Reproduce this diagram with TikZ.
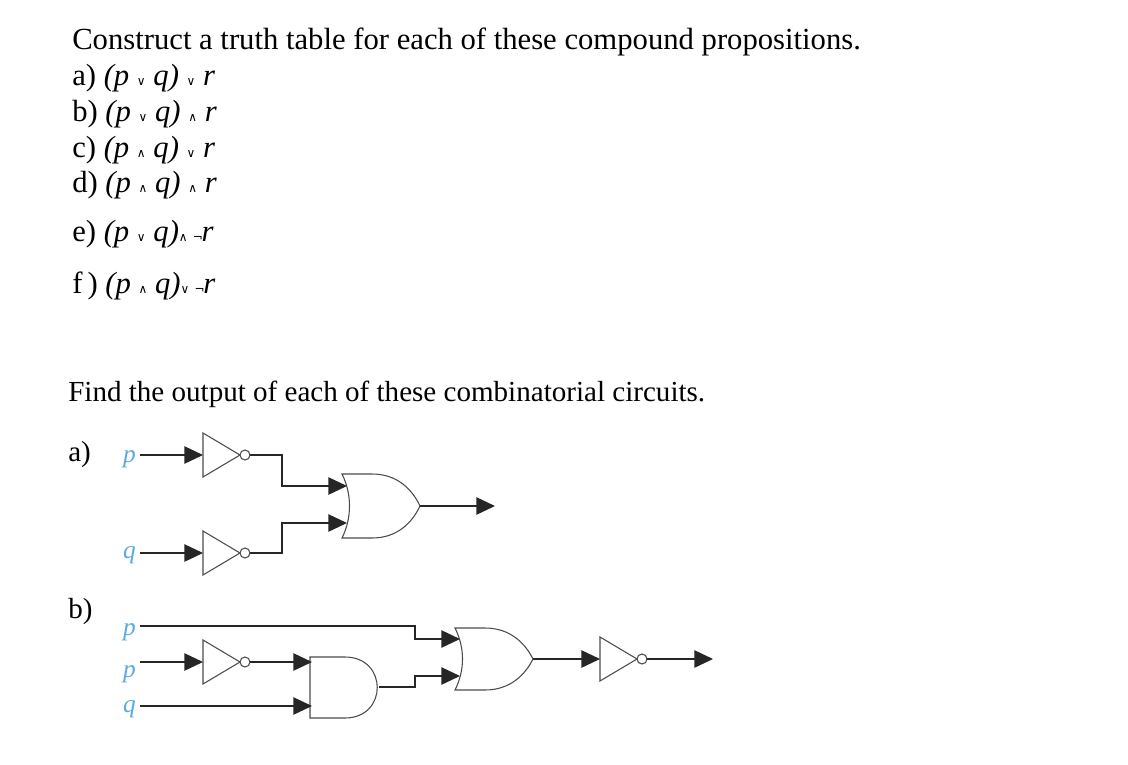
\documentclass[tikz,border=0pt]{standalone}
\usepackage{fontspec}
\setmainfont{Liberation Serif}
\newfontfamily\symf{DejaVu Sans}
\usetikzlibrary{arrows.meta}
\definecolor{lblue}{RGB}{90,170,230}
\tikzset{
 wire/.style={line width=1.2pt,black!85},
 arr/.style={wire,-{Triangle[length=14pt,width=13pt]}},
 gate/.style={draw=black!70,line width=0.8pt,fill=white},
 txt/.style={anchor=west,inner sep=0pt,font=\fontsize{23}{27}\selectfont},
 txt2/.style={anchor=west,inner sep=0pt,font=\fontsize{21.8}{26}\selectfont},
 lbl/.style={anchor=east,inner sep=0pt,text=lblue,font=\fontsize{19}{22}\selectfont\itshape},
}
\newcommand{\ors}{{\symf\small ∨}}
\newcommand{\ands}{{\symf\small ∧}}
\newcommand{\nots}{{\symf\small ¬}}
\newcommand{\notg}[3]{% x, y mid, name
 \draw[gate] (#1,#2-22) -- (#1,#2+22) -- (#1+37,#2) -- cycle;
 \draw[gate] (#1+42,#2) circle[radius=5];
 \coordinate (#3in) at (#1,#2); \coordinate (#3out) at (#1+47,#2);}
\newcommand{\org}[4]{% x, ytop, ybot, name
 \draw[gate] (#1,#2) -- (#1+30,#2) .. controls (#1+55,#2) and (#1+70,#2+15) .. (#1+78,{(#2+#3)/2})
  .. controls (#1+70,#3-15) and (#1+55,#3) .. (#1+30,#3) -- (#1,#3)
  .. controls (#1+10,#3-20) and (#1+10,#2+20) .. (#1,#2) -- cycle;
 \coordinate (#4out) at (#1+78,{(#2+#3)/2});}
\begin{document}
\begin{tikzpicture}[x=0.75pt,y=-0.75pt]
\useasboundingbox[fill=white] (0,0) rectangle (1128,764);
\node[txt] (h1) at (72,42) {Construct a truth table for each of these compound propositions.};
\node[txt] (ea) at (72,78) {a) \textit{(p} \ors{} \textit{q)} \ors{} \textit{r}};
\node[txt] (eb) at (72,114) {b) \textit{(p} \ors{} \textit{q)} \ands{} \textit{r}};
\node[txt] (ec) at (72,150) {c) \textit{(p} \ands{} \textit{q)} \ors{} \textit{r}};
\node[txt] (ed) at (72,185) {d) \textit{(p} \ands{} \textit{q)} \ands{} \textit{r}};
\node[txt] (ee) at (72,234) {e) \textit{(p} \ors{} \textit{q)}\ands\,\nots\kern-1pt\textit{r}};
\node[txt] (ef) at (72,286) {f\,) \textit{(p} \ands{} \textit{q)}\ors\,\nots\kern-1pt\textit{r}};
\node[txt2] (h2) at (68,394) {Find the output of each of these combinatorial circuits.};
% circuit a
\node[txt2] (la) at (68,455) {a)};
\node[lbl] (pa) at (136,459) {p};
\node[lbl] (qa) at (136,555) {q};
\notg{203}{455}{na}
\notg{203}{553}{nb}
\org{342}{474}{538}{oa}
\draw[arr] (140,455) -- (nain);
\draw[arr] (140,553) -- (nbin);
\draw[arr] (naout) -- (282,455) -- (282,486) -- (347,486);
\draw[arr] (nbout) -- (282,553) -- (282,523) -- (347,523);
\draw[arr] (oaout) -- (495,506);
% circuit b
\node[txt2] (lb) at (68,612) {b)};
\node[lbl] (pb1) at (136,632) {p};
\node[lbl] (pb2) at (136,674) {p};
\node[lbl] (qb) at (136,709) {q};
\notg{203}{662}{nc}
\draw[gate] (310,657) -- (345,657) .. controls (388,657) and (388,718) .. (345,718) -- (310,718) -- cycle;
\coordinate (andout) at (379,687);
\org{455}{628}{690}{ob}
\notg{600}{659}{nd}
\draw[arr] (140,626) -- (415,626) -- (415,639) -- (460,639);
\draw[arr] (140,662) -- (ncin);
\draw[arr] (ncout) -- (312,662);
\draw[arr] (140,706) -- (312,706);
\draw[arr] (andout) -- (415,687) -- (415,676) -- (460,676);
\draw[arr] (obout) -- (ndin);
\draw[arr] (ndout) -- (713,659);
\end{tikzpicture}
\end{document}
